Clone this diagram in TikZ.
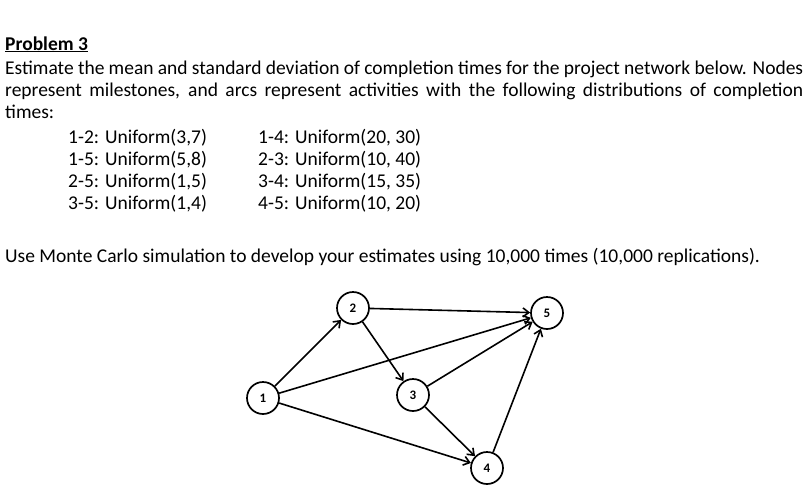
\documentclass[tikz,border=0pt]{standalone}
\usepackage{fontspec}
\setmainfont{Carlito}
\usetikzlibrary{arrows.meta}
\begin{document}
\begin{tikzpicture}[x=1pt,y=-1pt,
  txt/.style={anchor=base west,inner sep=0pt,font=\fontsize{19.5}{22}\selectfont},
  ms/.style={circle,draw,line width=1.7pt,minimum size=32pt,inner sep=0pt,font=\bfseries\fontsize{13}{15}\selectfont},
  arc/.style={line width=1.6pt,-{Straight Barb[length=6pt,width=9pt]}}]
\useasboundingbox (0,0) rectangle (808,491);
\begin{scope}
\clip (0,0) rectangle (808,491);
\node[txt] (c1) at (5,-4) {,};
\node[txt] (c2) at (322,-4) {(};
\node[txt] (c3) at (492,-4) {)};
\end{scope}
\node[txt,font=\bfseries\fontsize{19.5}{22}\selectfont] (t) at (5,50) {\underline{Problem 3}};
\node[txt] (p1) at (5,74) {\hbox to 798pt{Estimate the mean and standard deviation of completion times for the project network below. Nodes}};
\node[txt] (p2) at (5,96) {\hbox to 798pt{represent milestones, and arcs represent activities with the following distributions of completion}};
\node[txt] (p3) at (5,118) {times:};
\node[txt] (a1) at (68,143) {1-2: Uniform(3,7)};
\node[txt] (a2) at (68,165) {1-5: Uniform(5,8)};
\node[txt] (a3) at (68,187) {2-5: Uniform(1,5)};
\node[txt] (a4) at (68,209) {3-5: Uniform(1,4)};
\node[txt] (b1) at (258,143) {1-4: Uniform(20, 30)};
\node[txt] (b2) at (258,165) {2-3: Uniform(10, 40)};
\node[txt] (b3) at (258,187) {3-4: Uniform(15, 35)};
\node[txt] (b4) at (258,209) {4-5: Uniform(10, 20)};
\node[txt] (u) at (5,262) {Use Monte Carlo simulation to develop your estimates using 10,000 times (10,000 replications).};
\node[ms] (n1) at (263,398) {1};
\node[ms] (n2) at (353,308) {2};
\node[ms] (n3) at (413,395) {3};
\node[ms] (n4) at (487,468) {4};
\node[ms] (n5) at (547,313) {5};
\draw[arc] (n1) -- (n2);
\draw[arc] (n1) -- (n5);
\draw[arc] (n1) -- (n4);
\draw[arc] (n2) -- (n5);
\draw[arc] (n2) -- (n3);
\draw[arc] (n3) -- (n5);
\draw[arc] (n3) -- (n4);
\draw[arc] (n4) -- (n5);
\end{tikzpicture}
\end{document}
